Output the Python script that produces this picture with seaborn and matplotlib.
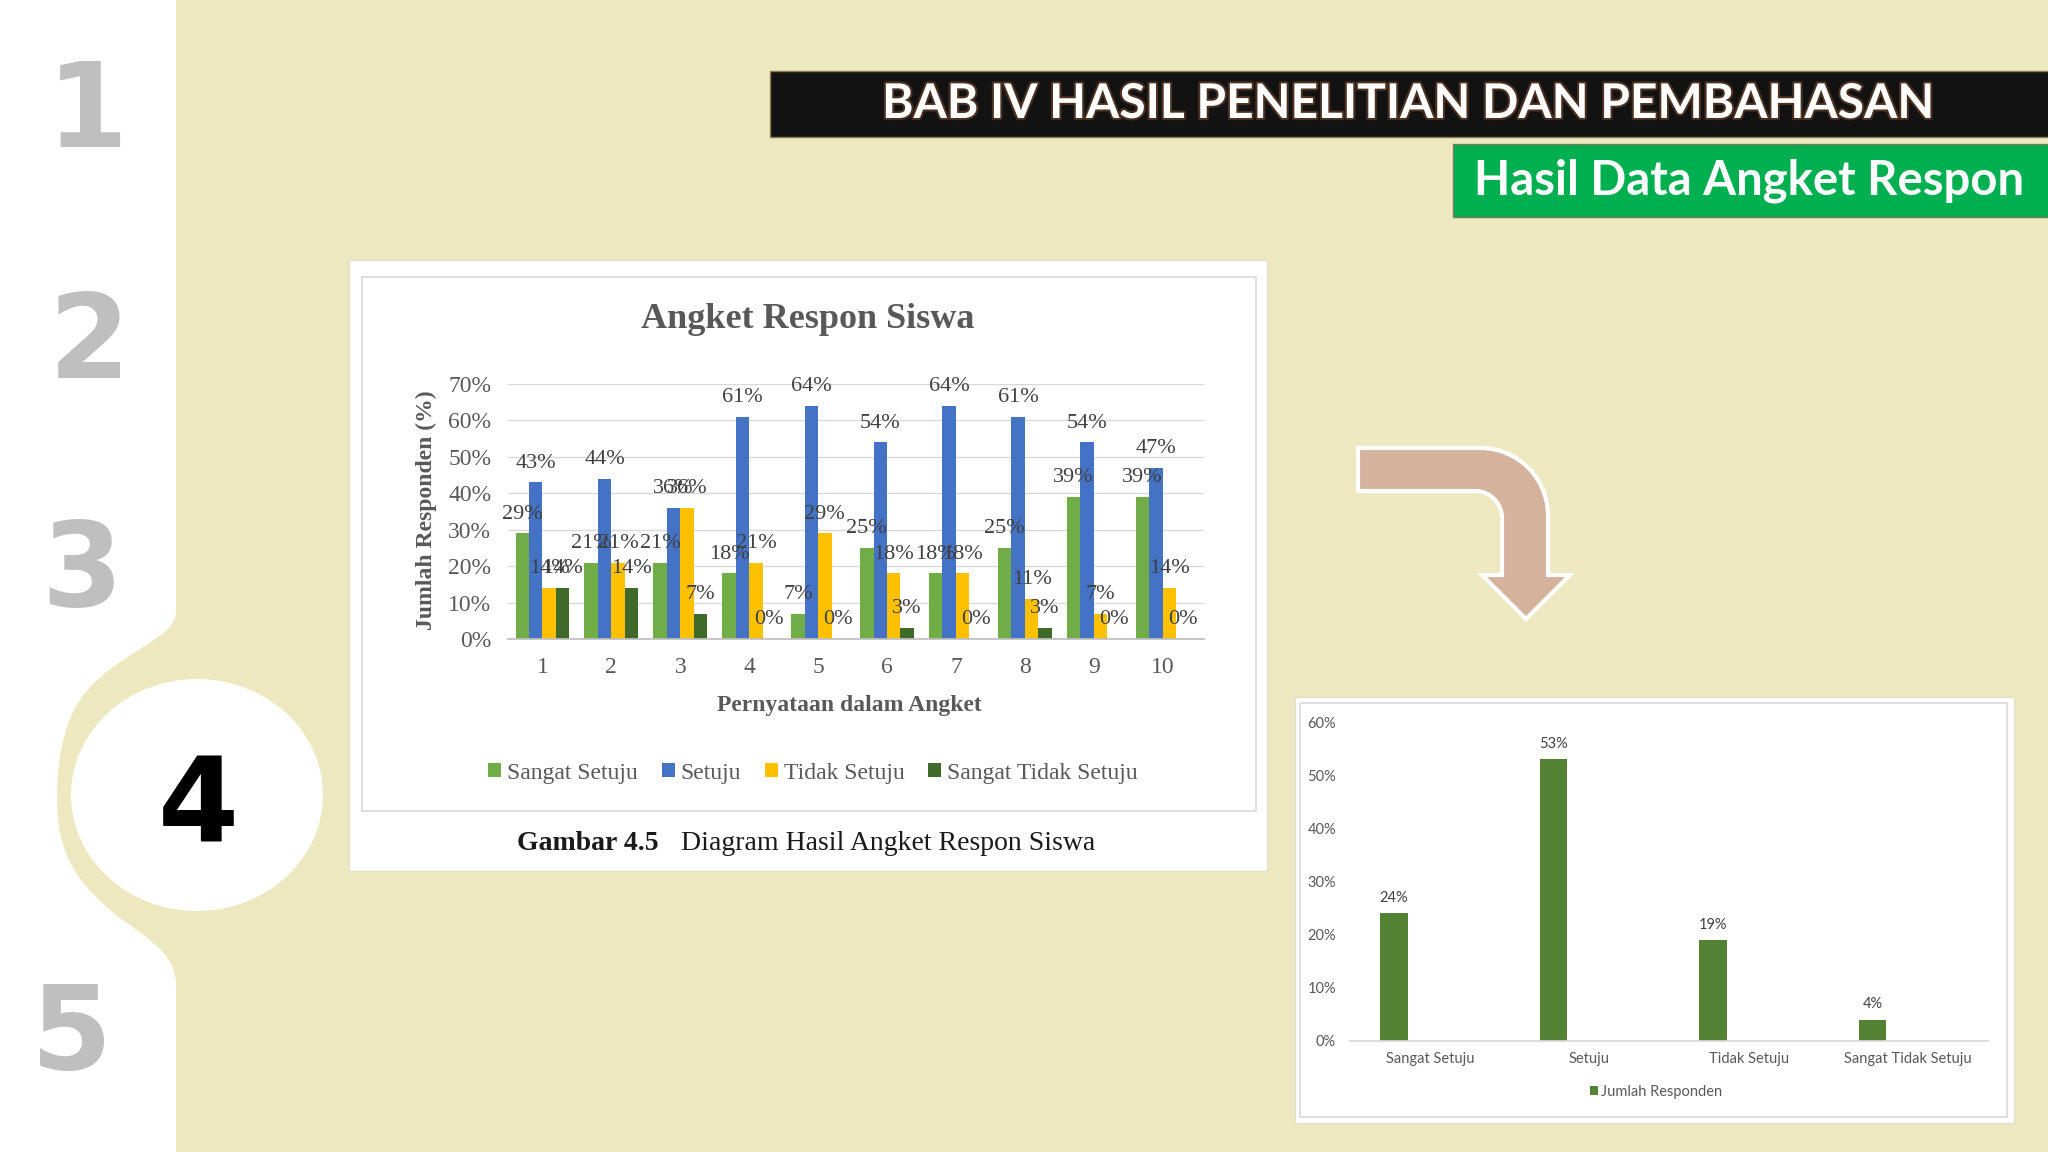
import matplotlib
matplotlib.use("Agg")
import matplotlib.pyplot as plt
import seaborn as sns
import numpy as np
import pandas as pd
from matplotlib.patches import Rectangle, Ellipse, PathPatch, Patch
from matplotlib.path import Path
import matplotlib.patheffects as pe
from matplotlib.ticker import MultipleLocator, FuncFormatter

# ---------------- data ----------------
questions = ["1", "2", "3", "4", "5", "6", "7", "8", "9", "10"]
series_names = ["Sangat Setuju", "Setuju", "Tidak Setuju", "Sangat Tidak Setuju"]
sangat_setuju = [29, 21, 21, 18, 7, 25, 18, 25, 39, 39]
setuju = [43, 44, 36, 61, 64, 54, 64, 61, 54, 47]
tidak_setuju = [14, 21, 36, 21, 29, 18, 18, 11, 7, 14]
sangat_tidak_setuju = [14, 14, 7, 0, 0, 3, 0, 3, 0, 0]

resp_cats = ["Sangat Setuju", "Setuju", "Tidak Setuju", "Sangat Tidak Setuju"]
resp_vals = [24, 53, 19, 4]

left_title = "Angket Respon Siswa"
left_ylabel = "Jumlah Responden (%)"
left_xlabel = "Pernyataan dalam Angket"
caption_bold = "Gambar 4.5"
caption_rest = "Diagram Hasil Angket Respon Siswa"
header_text = "BAB IV HASIL PENELITIAN DAN PEMBAHASAN"
sub_text = "Hasil Data Angket Respon"
resp_legend = "Jumlah Responden"
side_numbers = ["1", "2", "3", "4", "5"]

# ---------------- style ----------------
sns.set_theme(style="white")
plt.rcParams["font.family"] = ["DejaVu Sans"]
SERIF = "Liberation Serif"
BEIGE = "#EDE8BF"
colors = ["#70AD47", "#4472C4", "#FFC000", "#3F6A2A"]

W, H = 2048, 1152
fig = plt.figure(figsize=(20.48, 11.52), dpi=100)
fig.patch.set_facecolor(BEIGE)

bg = fig.add_axes([0, 0, 1, 1], zorder=0)
bg.set_xlim(0, W)
bg.set_ylim(H, 0)
bg.axis("off")

# left white strip with bulge
bg.add_patch(Rectangle((0, 0), 176, H, fc="white", ec="none"))
verts = [(176, 612),
         (176, 640), (110, 655), (80, 700),
         (60, 730), (57, 770), (57, 800),
         (57, 850), (75, 880), (110, 910),
         (140, 935), (176, 950), (176, 985),
         (210, 985), (210, 612), (176, 612)]
codes = [Path.MOVETO] + [Path.CURVE4] * 12 + [Path.LINETO, Path.LINETO, Path.CLOSEPOLY]
bg.add_patch(PathPatch(Path(verts, codes), fc=BEIGE, ec="none"))
bg.add_patch(Ellipse((197, 795), 252, 232, fc="white", ec="none"))

num_pos = [(87, 147), (89, 378), (82, 606), (198, 843), (72, 1069)]
for n, (x, y) in zip(side_numbers, num_pos):
    bg.text(x, y, n, fontsize=84, fontweight="bold", ha="center", va="baseline",
            color="black" if n == "4" else "#BFBFBF", family="DejaVu Sans")

# header bars
bg.add_patch(Rectangle((770, 71), 1290, 66, fc="#121212", ec="#8a7a50", lw=1))
bg.text(1408, 104, header_text, color="white", fontsize=34.5, fontweight="bold",
        ha="center", va="center", family="Lato",
        path_effects=[pe.withStroke(linewidth=3, foreground="#4a3020")])
bg.add_patch(Rectangle((1453, 144), 600, 73, fc="#00B050", ec="#7a7a5a", lw=1))
bg.text(1749, 181, sub_text, color="white", fontsize=34, fontweight="bold",
        ha="center", va="center", family="Lato")

# arrow
av = [(1358, 448), (1480, 448),
      (1518, 448), (1548, 478), (1548, 516),
      (1548, 575), (1570, 575), (1526, 619), (1482, 575), (1502, 575),
      (1502, 518),
      (1502, 503), (1490, 491), (1475, 491),
      (1358, 491), (1358, 448)]
ac = [Path.MOVETO, Path.LINETO,
      Path.CURVE4, Path.CURVE4, Path.CURVE4,
      Path.LINETO, Path.LINETO, Path.LINETO, Path.LINETO, Path.LINETO,
      Path.LINETO,
      Path.CURVE4, Path.CURVE4, Path.CURVE4,
      Path.LINETO, Path.CLOSEPOLY]
bg.add_patch(PathPatch(Path(av, ac), fc="#D4B29C", ec="white", lw=3, joinstyle="miter"))

# panels
bg.add_patch(Rectangle((349, 260), 918, 611, fc="white", ec="#E3E0CC", lw=1))
bg.add_patch(Rectangle((362, 277), 894, 534, fc="none", ec="#D9D9D9", lw=1.2))
bg.add_patch(Rectangle((1295, 697), 719, 426, fc="white", ec="#E3E0CC", lw=1))
bg.add_patch(Rectangle((1300, 703), 707, 414, fc="none", ec="#D9D9D9", lw=1.2))

# left chart texts
bg.text(808, 319, left_title, family=SERIF, fontweight="bold", fontsize=26,
        color="#595959", ha="center", va="center")
bg.text(426, 510, left_ylabel, family=SERIF, fontweight="bold", fontsize=17,
        color="#595959", ha="center", va="center", rotation=90)
bg.text(849, 705, left_xlabel, family=SERIF, fontweight="bold", fontsize=17,
        color="#595959", ha="center", va="center")
bg.text(517, 843, caption_bold, family=SERIF, fontweight="bold", fontsize=20,
        color="#1a1a1a", ha="left", va="center")
bg.text(681, 843, caption_rest, family=SERIF, fontsize=20,
        color="#1a1a1a", ha="left", va="center")

# ---------------- left chart ----------------
df = pd.DataFrame({
    "Pernyataan": questions * 4,
    "Persen": sangat_setuju + setuju + tidak_setuju + sangat_tidak_setuju,
    "Kategori": [s for s in series_names for _ in questions],
})
ax1 = fig.add_axes([508 / W, (H - 639) / H, 696 / W, 255 / H], zorder=2)
ax1.set_facecolor("none")
sns.barplot(data=df, x="Pernyataan", y="Persen", hue="Kategori", hue_order=series_names,
            palette=colors, width=0.78, gap=0, saturation=1, legend=False, ax=ax1,
            edgecolor="none", err_kws={"linewidth": 0})
ax1.set_ylim(0, 70)
ax1.set_xlim(-0.5, 9.6)
ax1.yaxis.set_major_locator(MultipleLocator(10))
ax1.yaxis.set_major_formatter(FuncFormatter(lambda v, p: f"{int(v)}%"))
ax1.grid(axis="y", color="#D9D9D9", lw=1)
ax1.set_axisbelow(True)
for s in ["top", "right", "left"]:
    ax1.spines[s].set_visible(False)
ax1.spines["bottom"].set_color("#BFBFBF")
ax1.set_xlabel("")
ax1.set_ylabel("")
ax1.tick_params(axis="both", length=0, labelsize=17, colors="#595959")
ax1.tick_params(axis="y", pad=12)
ax1.tick_params(axis="x", pad=13)
for lab in ax1.get_xticklabels() + ax1.get_yticklabels():
    lab.set_family(SERIF)
for c in ax1.containers:
    ax1.bar_label(c, fmt="%d%%", padding=7, fontsize=16, color="#404040", family=SERIF)
handles = [Patch(fc=col, ec="none") for col in colors]
ax1.legend(handles, series_names, ncol=4, loc="center",
           bbox_to_anchor=(813 / W, (H - 773) / H), bbox_transform=fig.transFigure,
           frameon=False, prop={"family": SERIF, "size": 17}, labelcolor="#595959",
           handlelength=0.55, handleheight=0.55, handletextpad=0.25, columnspacing=1.0)

# ---------------- right chart ----------------
ax2 = fig.add_axes([1350 / W, (H - 1041) / H, 638 / W, 319 / H], zorder=2)
ax2.set_facecolor("none")
sns.barplot(x=resp_cats, y=resp_vals, color="#548235", width=0.175, saturation=1,
            ax=ax2, edgecolor="none")
ax2.set_xlim(-0.276, len(resp_cats) - 0.276)
ax2.set_xticks(np.arange(len(resp_cats)) + 0.224)
ax2.set_xticklabels(resp_cats)
ax2.set_ylim(0, 60)
ax2.yaxis.set_major_locator(MultipleLocator(10))
ax2.yaxis.set_major_formatter(FuncFormatter(lambda v, p: f"{int(v)}%"))
for s in ["top", "right", "left"]:
    ax2.spines[s].set_visible(False)
ax2.spines["bottom"].set_color("#D9D9D9")
ax2.tick_params(axis="both", length=0, labelsize=10.5, colors="#595959")
ax2.tick_params(axis="y", pad=10)
ax2.tick_params(axis="x", pad=8)
for lab in ax2.get_xticklabels() + ax2.get_yticklabels():
    lab.set_family("Lato")
for c in ax2.containers:
    ax2.bar_label(c, fmt="%d%%", padding=6, fontsize=10.5, color="#404040", family="Lato")
ax2.legend([Patch(fc="#548235", ec="none")], [resp_legend], loc="center",
           bbox_to_anchor=(1656 / W, (H - 1092) / H), bbox_transform=fig.transFigure,
           frameon=False, prop={"family": "Lato", "size": 10.5}, labelcolor="#595959",
           handlelength=0.6, handleheight=0.6, handletextpad=0.2)

fig.savefig("out.png", dpi=100, facecolor=fig.get_facecolor())
